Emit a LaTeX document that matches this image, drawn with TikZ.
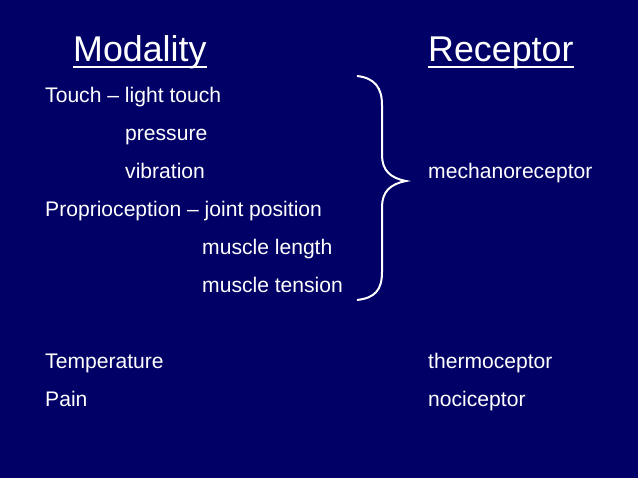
\documentclass[tikz,border=0pt]{standalone}
\usepackage{fontspec}
\setmainfont{Liberation Sans}
\begin{document}
\begin{tikzpicture}[x=1pt,y=-1pt,
  body/.style={anchor=base west,inner sep=0pt,text=white,font=\fontsize{21.1}{24}\selectfont},
  head/.style={anchor=base west,inner sep=0pt,text=white,font=\fontsize{35.8}{40}\selectfont},
  uline/.style={draw=white,line width=1.8pt}]
\fill[fill={rgb,255:red,0;green,0;blue,102}] (0,0) rectangle (638,478);
\useasboundingbox (0,0) rectangle (638,478);
\node[head] (mod) at (73,62) {Modality};
\node[head] (rec) at (428,62) {Receptor};
\draw[uline] ([yshift=-5pt]mod.base west) -- ([yshift=-5pt]mod.base east);
\draw[uline] ([yshift=-5pt]rec.base west) -- ([yshift=-5pt]rec.base east);
\node[body] (t1) at (45,103) {Touch – light touch};
\node[body] (t2) at (125,141) {pressure};
\node[body] (t3) at (125,179) {vibration};
\node[body] (p1) at (45,217) {Proprioception – joint position};
\node[body] (p2) at (202,255) {muscle length};
\node[body] (p3) at (202,293) {muscle tension};
\node[body] (te) at (45,369) {Temperature};
\node[body] (pa) at (45,407) {Pain};
\node[body] (mr) at (428,179) {mechanoreceptor};
\node[body] (tr) at (428,369) {thermoceptor};
\node[body] (nr) at (428,407) {nociceptor};
\draw[white,line width=2pt]
  (357,76) .. controls (375,78) and (382,88) .. (382,105)
  -- (382,155) .. controls (382,170) and (390,178) .. (406,181)
  .. controls (390,184) and (382,192) .. (382,207)
  -- (382,272) .. controls (382,290) and (375,298) .. (357,300);
\end{tikzpicture}
\end{document}
